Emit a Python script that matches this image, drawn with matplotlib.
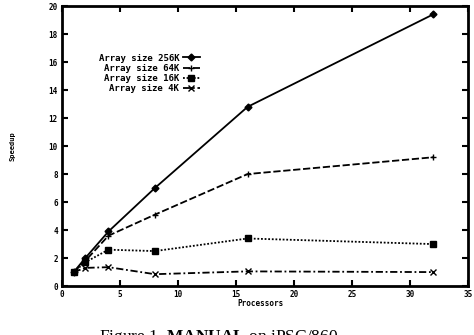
import matplotlib
matplotlib.use("Agg")
import matplotlib.pyplot as plt

# data
procs = [1, 2, 4, 8, 16, 32]
speed_256k = [1.0, 2.0, 3.9, 7.0, 12.8, 19.4]
speed_64k = [1.0, 1.8, 3.6, 5.1, 8.0, 9.2]
speed_16k = [1.0, 1.7, 2.6, 2.5, 3.4, 3.0]
speed_4k = [1.0, 1.3, 1.35, 0.85, 1.05, 1.0]

labels = ["Array size 256K", "Array size 64K", "Array size 16K", "Array size 4K"]

plt.rcParams["font.family"] = "DejaVu Sans Mono"
plt.rcParams["font.weight"] = "bold"
plt.rcParams["mathtext.fontset"] = "custom"
plt.rcParams["mathtext.bf"] = "Liberation Serif:bold"
plt.rcParams["mathtext.rm"] = "Liberation Serif"

fig = plt.figure(figsize=(4.74, 3.35), dpi=100)
ax = fig.add_axes([0.131, 0.146, 0.856, 0.836])

lw = 1.3
ax.plot(procs, speed_256k, color="black", linestyle="-", marker="D", markersize=3.5, linewidth=lw, label=labels[0])
ax.plot(procs, speed_64k, color="black", linestyle=(0, (4, 1.5)), marker="+", markersize=5, linewidth=lw, label=labels[1])
ax.plot(procs, speed_16k, color="black", linestyle=(0, (1, 1)), marker="s", markersize=4, linewidth=lw, label=labels[2])
ax.plot(procs, speed_4k, color="black", linestyle=(0, (4, 1.5, 1, 1.5)), marker="x", markersize=4, linewidth=lw, label=labels[3])

ax.set_xlim(0, 35)
ax.set_ylim(0, 20)
ax.set_xticks([0, 5, 10, 15, 20, 25, 30, 35])
ax.set_yticks([0, 2, 4, 6, 8, 10, 12, 14, 16, 18, 20])
ax.tick_params(direction="in", top=True, right=True, length=4, width=1.5, labelsize=5.5, pad=3)
for s in ax.spines.values():
    s.set_linewidth(2)

ax.set_xlabel("Processors", fontsize=5.5, fontweight="bold")
ax.xaxis.set_label_coords(0.49, -0.045)
ax.set_ylabel("Speedup", fontsize=5, fontweight="bold")
ax.yaxis.set_label_coords(-0.115, 0.5)

ax.legend(loc="upper right", bbox_to_anchor=(0.34, 0.83), frameon=False, markerfirst=False,
          fontsize=6.5, handlelength=1.9, handletextpad=0.4, labelspacing=0.12,
          borderpad=0, borderaxespad=0)

fig.text(0.462, -0.0173, r"Figure 1. $\mathbf{MANUAL}$ on iPSC/860", ha="center", va="baseline",
         fontsize=12.5, family="Liberation Serif", fontweight="normal")

fig.savefig("out.png", dpi=100)
